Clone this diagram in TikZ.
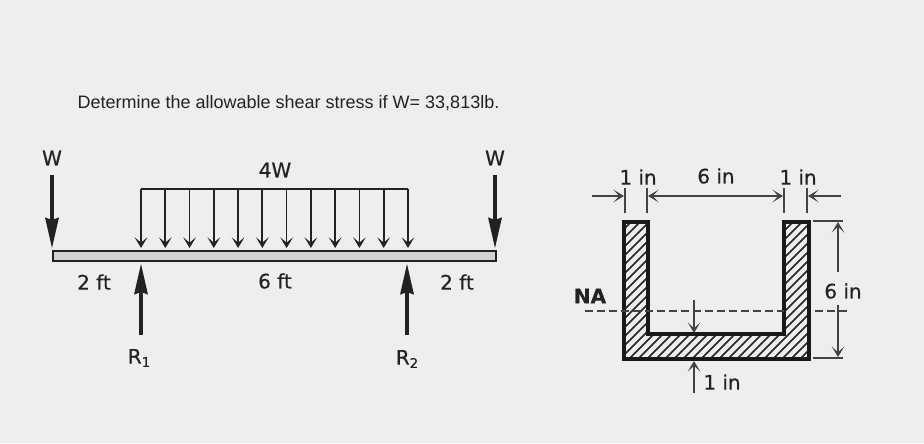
\documentclass[tikz,border=0pt]{standalone}
\usepackage{fontspec}
\setmainfont[FakeBold=0.25]{DejaVu Sans}
\newfontfamily\titlefont{Liberation Sans}
\newfontfamily\labelfont[FakeBold=0.5]{DejaVu Sans}
\usetikzlibrary{arrows.meta}
\definecolor{bgc}{HTML}{EEEEEE}
\definecolor{ink}{HTML}{222222}
\definecolor{beamc}{HTML}{D2D2D2}
\tikzset{
  x=0.75pt,y=-0.75pt,
  lbl/.style={inner sep=0pt,text=ink,font=\labelfont\fontsize{15}{17}\selectfont},
  boldlbl/.style={inner sep=0pt,text=ink,font=\fontsize{15}{17}\selectfont\bfseries},
  heavyarrow/.style={draw=ink,line width=3.6pt,-{Stealth[length=23pt,width=10.5pt,inset=2pt,line width=0pt]}},
  loadarrow/.style={draw=ink,line width=1.3pt,-{Stealth[length=8pt,width=9.5pt,inset=4pt]}},
  loadline/.style={draw=ink,line width=1.5pt},
  dimarrow/.style={draw=ink!85,line width=1.1pt,-{Stealth[length=8pt,width=9.5pt,inset=4.5pt]}},
  dimline/.style={draw=ink!85,line width=1.1pt},
  naline/.style={draw=ink!85,line width=0.9pt,dash pattern=on 6pt off 3pt},
  beam/.style={draw=ink,line width=1.5pt,fill=beamc},
  sect/.style={draw=black!90,line width=2.4pt,line join=miter},
  hatchline/.style={draw=ink,line width=1.25pt},
}
\begin{document}
\begin{tikzpicture}
\useasboundingbox (0,0) rectangle (924,443);
\fill[bgc] (0,0) rectangle (924,443);
\node[inner sep=0pt,text=ink,font=\titlefont\fontsize{13.5}{16}\selectfont] (title) at (288.5,103) {Determine the allowable shear stress if W= 33,813lb.};

% beam
\node[beam,minimum width=332.5pt,minimum height=8pt,inner sep=0pt,anchor=north west] (beamnode) at (52,249.5) {};

% point loads
\coordinate (wl) at (52,175); \coordinate (wlt) at (52,248);
\coordinate (wr) at (495,175); \coordinate (wrt) at (495,248);
\draw[heavyarrow] (wl) -- (wlt);
\draw[heavyarrow] (wr) -- (wrt);
\node[lbl] (wltext) at (52,158) {W};
\node[lbl] (wrtext) at (495,158) {W};

% distributed load
\coordinate (udla) at (141,189); \coordinate (udlb) at (408,189);
\draw[loadline] (udla) -- (udlb);
\foreach \i in {0,...,11}{
  \coordinate (ua\i) at ({141+24.27*\i},189);
  \coordinate (ub\i) at ({141+24.27*\i},248);
  \draw[loadarrow] (ua\i) -- (ub\i);
}
\node[lbl] (fourw) at (275,170) {4W};

% reactions
\coordinate (ra) at (141,335); \coordinate (rat) at (141,264);
\coordinate (rb) at (407,335); \coordinate (rbt) at (407,264);
\draw[heavyarrow] (ra) -- (rat);
\draw[heavyarrow] (rb) -- (rbt);
\node[lbl] (r1) at (139,358) {R\raisebox{-0.3ex}{\fontsize{10}{11}\selectfont 1}};
\node[lbl] (r2) at (407,359) {R\raisebox{-0.3ex}{\fontsize{10}{11}\selectfont 2}};
\node[lbl] (da) at (94,282) {2 ft};
\node[lbl] (db) at (275,281) {6 ft};
\node[lbl] (dc) at (457,282) {2 ft};

% channel section
\begin{scope}
  \clip (624,222) -- (648,222) -- (648,334) -- (784,334) -- (784,222) -- (809,222) -- (809,359) -- (624,359) -- cycle;
  \foreach \k in {0,...,40}{
    \draw[hatchline] ({470+9*\k},365) -- ({470+9*\k+150},215);
  }
\end{scope}
\draw[sect] (624,222) -- (648,222) -- (648,334) -- (784,334) -- (784,222) -- (809,222) -- (809,359) -- (624,359) -- cycle;

% neutral axis
\coordinate (naa) at (585,311); \coordinate (nab) at (784,311);
\coordinate (nac) at (815,311); \coordinate (nad) at (847,311);
\draw[naline] (naa) -- (nab);
\draw[naline] (nac) -- (nad);
\node[boldlbl] (natext) at (590,296) {NA};

% top dimensions
\coordinate (e1a) at (625,188); \coordinate (e1b) at (625,213);
\coordinate (e2a) at (647,188); \coordinate (e2b) at (647,213);
\coordinate (e3a) at (784,188); \coordinate (e3b) at (784,213);
\coordinate (e4a) at (807,188); \coordinate (e4b) at (807,213);
\draw[dimline] (e1a) -- (e1b);
\draw[dimline] (e2a) -- (e2b);
\draw[dimline] (e3a) -- (e3b);
\draw[dimline] (e4a) -- (e4b);
\coordinate (t1) at (592,196); \coordinate (t1t) at (624,196);
\coordinate (t2) at (716,196); \coordinate (t2l) at (648,196); \coordinate (t2r) at (783,196);
\coordinate (t3) at (841,196); \coordinate (t3t) at (808,196);
\draw[dimarrow] (t1) -- (t1t);
\draw[dimarrow] (t2) -- (t2l);
\draw[dimarrow] (t2) -- (t2r);
\draw[dimarrow] (t3) -- (t3t);
\node[lbl] (in1) at (638,177) {1 in};
\node[lbl] (in6) at (716,176) {6 in};
\node[lbl] (in1b) at (798,177) {1 in};

% right dimension
\coordinate (x1a) at (813,221); \coordinate (x1b) at (843,221);
\coordinate (x2a) at (813,358); \coordinate (x2b) at (843,358);
\draw[dimline] (x1a) -- (x1b);
\draw[dimline] (x2a) -- (x2b);
\coordinate (v1) at (838,272); \coordinate (v1t) at (838,222);
\coordinate (v2) at (838,305); \coordinate (v2t) at (838,357);
\draw[dimarrow] (v1) -- (v1t);
\draw[dimarrow] (v2) -- (v2t);
\node[lbl] (in6b) at (843,291) {6 in};

% flange thickness
\coordinate (b1) at (694,300); \coordinate (b1t) at (694,333);
\coordinate (b2) at (694,393); \coordinate (b2t) at (694,361);
\draw[dimarrow] (b1) -- (b1t);
\draw[dimarrow] (b2) -- (b2t);
\node[lbl] (in1c) at (722,382) {1 in};
\end{tikzpicture}
\end{document}
